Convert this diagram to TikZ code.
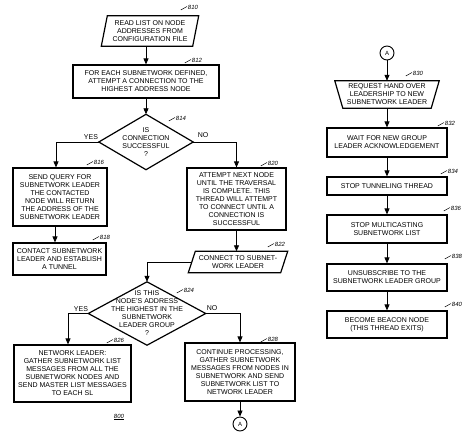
\documentclass[tikz,border=0pt]{standalone}
\usepackage{fontspec}
\setmainfont{Liberation Sans}
\usetikzlibrary{arrows.meta,calc}
\tikzset{
  txt/.style={inner sep=0pt, align=center, font=\fontsize{7}{8}\selectfont},
  box/.style={txt, draw, line width=1.2pt},
  outl/.style={line width=1.2pt, line join=miter},
  conn/.style={line width=0.8pt, -{Triangle[length=6pt,width=5pt]}},
  lbl/.style={inner sep=0pt, font=\fontsize{6}{6}\selectfont\itshape},
  tick/.style={line width=0.5pt},
  yn/.style={inner sep=0pt, font=\fontsize{7}{8}\selectfont},
  conA/.style={circle, draw, line width=0.9pt, minimum size=14pt, inner sep=0pt, font=\fontsize{6}{6}\selectfont},
}
\begin{document}
\begin{tikzpicture}[x=1pt,y=-1pt]
\useasboundingbox (0,0) rectangle (474,440);

% ---------- left / middle flow ----------
\node[txt, minimum width=91pt, minimum height=30pt] (n810) at (150,31) {READ LIST ON NODE\\ADDRESSES FROM\\CONFIGURATION FILE};
\draw[outl] ($(n810.north west)+(3,0)$) -- ($(n810.north east)+(3,0)$) -- ($(n810.south east)+(-3,0)$) -- ($(n810.south west)+(-3,0)$) -- cycle;

\node[box, minimum width=146pt, minimum height=33pt] (n812) at (146,81.5) {FOR EACH SUBNETWORK DEFINED,\\ATTEMPT A CONNECTION TO THE\\HIGHEST ADDRESS NODE};

\node[txt, minimum width=94pt, minimum height=55pt] (n814) at (146,142) {IS\\CONNECTION\\SUCCESSFUL\\?};
\draw[outl] (n814.north) -- (n814.east) -- (n814.south) -- (n814.west) -- cycle;

\node[box, minimum width=94pt, minimum height=58pt] (n816) at (60,197) {SEND QUERY FOR\\SUBNETWORK LEADER\\THE CONTACTED\\NODE WILL RETURN\\THE ADDRESS OF THE\\SUBNETWORK LEADER};

\node[box, minimum width=93pt, minimum height=32pt] (n818) at (59.5,259) {CONTACT SUBNETWORK\\LEADER AND ESTABLISH\\A TUNNEL};

\node[box, minimum width=99pt, minimum height=62pt] (n820) at (236.5,199) {ATTEMPT NEXT NODE\\UNTIL THE TRAVERSAL\\IS COMPLETE. THIS\\THREAD WILL ATTEMPT\\TO CONNECT UNTIL A\\CONNECTION IS\\SUCCESSFUL};

\node[txt, minimum width=92pt, minimum height=21pt] (n822) at (238,262) {CONNECT TO SUBNET-\\WORK LEADER};
\draw[outl] ($(n822.north west)+(3.5,0)$) -- ($(n822.north east)+(3.5,0)$) -- ($(n822.south east)+(-3.5,0)$) -- ($(n822.south west)+(-3.5,0)$) -- cycle;

\node[txt, minimum width=117pt, minimum height=63pt] (n824) at (147,313.5) {IS THIS\\NODE'S ADDRESS\\THE HIGHEST IN THE\\SUBNETWORK\\LEADER GROUP\\?};
\draw[outl] (n824.north) -- (n824.east) -- (n824.south) -- (n824.west) -- cycle;

\node[box, minimum width=117pt, minimum height=57pt] (n826) at (72.5,373.5) {NETWORK LEADER:\\GATHER SUBNETWORK LIST\\MESSAGES FROM ALL THE\\SUBNETWORK NODES AND\\SEND MASTER LIST MESSAGES\\TO EACH SL};

\node[box, minimum width=110pt, minimum height=58pt] (n828) at (240,372) {CONTINUE PROCESSING,\\GATHER SUBNETWORK\\MESSAGES FROM NODES IN\\SUBNETWORK AND SEND\\SUBNETWORK LIST TO\\NETWORK LEADER};

\node[conA] (nA1) at (240,424) {A};

% ---------- right column ----------
\node[conA] (nA2) at (387,53) {A};

\node[txt, minimum width=104pt, minimum height=27pt] (n830) at (387,94.5) {REQUEST HAND OVER\\LEADERSHIP TO NEW\\SUBNETWORK LEADER};
\draw[outl] (n830.north west) -- (n830.north east) -- ($(n830.south east)+(-8,0)$) -- ($(n830.south west)+(8,0)$) -- cycle;

\node[box, minimum width=120pt, minimum height=29pt] (n832) at (387,142.5) {WAIT FOR NEW GROUP\\LEADER ACKNOWLEDGEMENT};
\node[box, minimum width=120pt, minimum height=18pt] (n834) at (387,186) {STOP TUNNELING THREAD};
\node[box, minimum width=120pt, minimum height=28pt] (n836) at (387,229) {STOP MULTICASTING\\SUBNETWORK LIST};
\node[box, minimum width=120pt, minimum height=27pt] (n838) at (387,277.5) {UNSUBSCRIBE TO THE\\SUBNETWORK LEADER GROUP};
\node[box, minimum width=120pt, minimum height=27pt] (n840) at (387,324.5) {BECOME BEACON NODE\\(THIS THREAD EXITS)};

% ---------- connectors ----------
\draw[conn] (n812.north |- n810.south) -- (n812.north);
\draw[conn] (n812.south) -- (n814.north);
\draw[conn] (n814.west) -| ([xshift=-4pt]n816.north);
\draw[conn] (n814.east) -| (n820.north);
\draw[conn] ([xshift=-5pt]n816.south) -- ([xshift=-5pt]n816.south |- n818.north);
\draw[conn] (n820.south) -- (n820.south |- n822.north);
\draw[conn] (n822.west) -| (n824.north);
\draw[conn] (n824.west) -| ([xshift=-4.5pt]n826.north);
\draw[conn] (n824.east) -| (n828.north);
\draw[conn] (n828.south) -- (nA1.north);

\draw[conn] (nA2.south) -- (n830.north);
\draw[conn] (n830.south) -- (n832.north);
\draw[conn] (n832.south) -- (n834.north);
\draw[conn] (n834.south) -- (n836.north);
\draw[conn] (n836.south) -- (n838.north);
\draw[conn] (n838.south) -- (n840.north);

% ---------- yes / no ----------
\node[yn] (y814) at (91,137) {YES};
\node[yn] (no814) at (203,135) {NO};
\node[yn] (y824) at (81,309) {YES};
\node[yn] (no824) at (212,308) {NO};

% ---------- reference numbers ----------
\foreach \t/\x/\y in {810/193/7, 812/197/60, 814/181/118, 816/99/162, 818/105/237,
  820/273/163, 822/280/244, 824/189/290, 826/119/340, 828/273/339,
  830/418/73, 832/450/123, 834/453/171, 836/456/208, 838/457/256, 840/457/304} {
  \node[lbl] (l\t) at (\x,\y) {\t};
  \draw[tick] ($(l\t.west)+(-7,3)$) .. controls ($(l\t.west)+(-4,0.5)$) .. ($(l\t.west)+(-0.8,-0.5)$);
}
\node[lbl] (l800) at (119,417) {\underline{800}};
\end{tikzpicture}
\end{document}
